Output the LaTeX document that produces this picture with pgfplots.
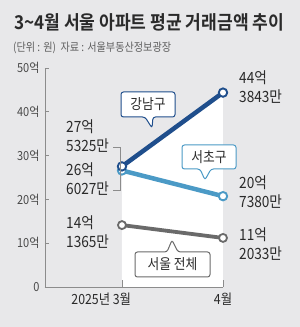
\documentclass[border=0pt]{standalone}
\usepackage{pgfplots}
\pgfplotsset{compat=1.18}
\usepackage{fontspec}
\setmainfont{Noto Sans CJK KR}
\newfontfamily\cond[FakeStretch=0.88]{Noto Sans CJK KR}
\newfontfamily\condb[FakeStretch=0.9]{Noto Sans CJK KR Bold}
\definecolor{bg}{HTML}{E8E8EA}
\definecolor{gn}{HTML}{1F4E8C}
\definecolor{sc}{HTML}{4B9AC6}
\definecolor{se}{HTML}{6A6A6A}
\definecolor{ax}{HTML}{8C8C8C}
\definecolor{txt}{HTML}{2A2A2A}
\begin{document}
\begin{tikzpicture}[x=1pt,y=1pt]
\fill[bg] (0,0) rectangle (300,327);
\useasboundingbox (0,0) rectangle (300,327);
\begin{axis}[
  at={(45pt,40pt)}, anchor=south west,
  scale only axis, width=178pt, height=219pt,
  xmin=-0.762, xmax=1, ymin=0, ymax=50,
  clip=false,
  axis lines=left, axis line style={-, ax, line width=0.8pt},
  ytick={0,10,20,30,40,50},
  yticklabels={0,10억,20억,30억,40억,50억},
  xtick={0,1},
  xticklabels={\llap{2025년 }3월,4월},
  tick align=inside, major tick length=4pt,
  tick style={ax, line width=0.8pt},
  yticklabel style={font=\cond\fontsize{12.5}{14}\selectfont, text=txt!85, xshift=-2pt},
  xticklabel style={font=\cond\fontsize{14}{16}\selectfont, text=txt, yshift=-2pt},
]
\addplot[fill=white, draw=none] coordinates {(0,27.5325) (1,44.3843)} \closedcycle;
\draw[ax, line width=0.8pt] (axis cs:0,0) -- (axis cs:0,1.5);
\draw[ax, line width=0.8pt] (axis cs:1,0) -- (axis cs:1,1.5);
\addplot[se, line width=3.8pt, mark=*, mark size=4pt, mark options={fill=white, draw=se, line width=1.8pt}] coordinates {(0,14.1365) (1,11.2033)};
\addplot[sc, line width=4.5pt, mark=*, mark size=4.2pt, mark options={fill=white, draw=sc, line width=1.9pt}] coordinates {(0,26.6027) (1,20.7380)};
\addplot[gn, line width=4.5pt, mark=*, mark size=4.2pt, mark options={fill=white, draw=gn, line width=1.9pt}] coordinates {(0,27.5325) (1,44.3843)};
\end{axis}
\begin{scope}[y=-1pt, shift={(0pt,327pt)}]
\tikzset{val/.style={anchor=north west, inner sep=0, align=left, text=txt, font=\cond\fontsize{15.5}{19.5}\selectfont}}
% title
\node[anchor=west, inner sep=0, text=txt, font=\condb\fontsize{19}{21}\selectfont] at (14,22) {3\char"7E 4월 서울 아파트 평균 거래금액 추이};
\node[anchor=west, inner sep=0, text=txt!75, font=\cond\fontsize{11.5}{13}\selectfont] at (13,47.5) {(단위 : 원)\ \ 자료 : 서울부동산정보광장};
% bracket
\draw[ax, line width=0.7pt] (113,147) -- (120,147) -- (120,190) -- (113,190);
% left labels
\node[val] at (66,119) {27억\\5325만};
\node[val] at (66,162) {26억\\6027만};
\node[val] at (66,215) {14억\\1365만};
% right labels
\node[val] at (239,70) {44억\\3843만};
\node[val] at (239,175) {20억\\7380만};
\node[val] at (239,227) {11억\\2033만};
% callouts
\draw[gn, line width=1pt, fill=white, rounded corners=2.5pt] (121,92) -- (175,92) -- (175,117) -- (153,117) -- (152,128) -- (145,117) -- (121,117) -- cycle;
\node[text=txt, font=\cond\fontsize{14.5}{16}\selectfont] at (148,104.5) {강남구};
\draw[sc, line width=1pt, fill=white, rounded corners=2.5pt] (182,145) -- (236,145) -- (236,169) -- (211,169) -- (205,180) -- (200,169) -- (182,169) -- cycle;
\node[text=txt, font=\cond\fontsize{14.5}{16}\selectfont] at (209,157) {서초구};
\draw[se, line width=1pt, fill=white, rounded corners=2.5pt] (135,252) -- (167,252) -- (172,240) -- (178,252) -- (210,252) -- (210,277) -- (135,277) -- cycle;
\node[text=txt, font=\cond\fontsize{14.5}{16}\selectfont] at (172.5,264.5) {서울 전체};
\end{scope}
\end{tikzpicture}
\end{document}
